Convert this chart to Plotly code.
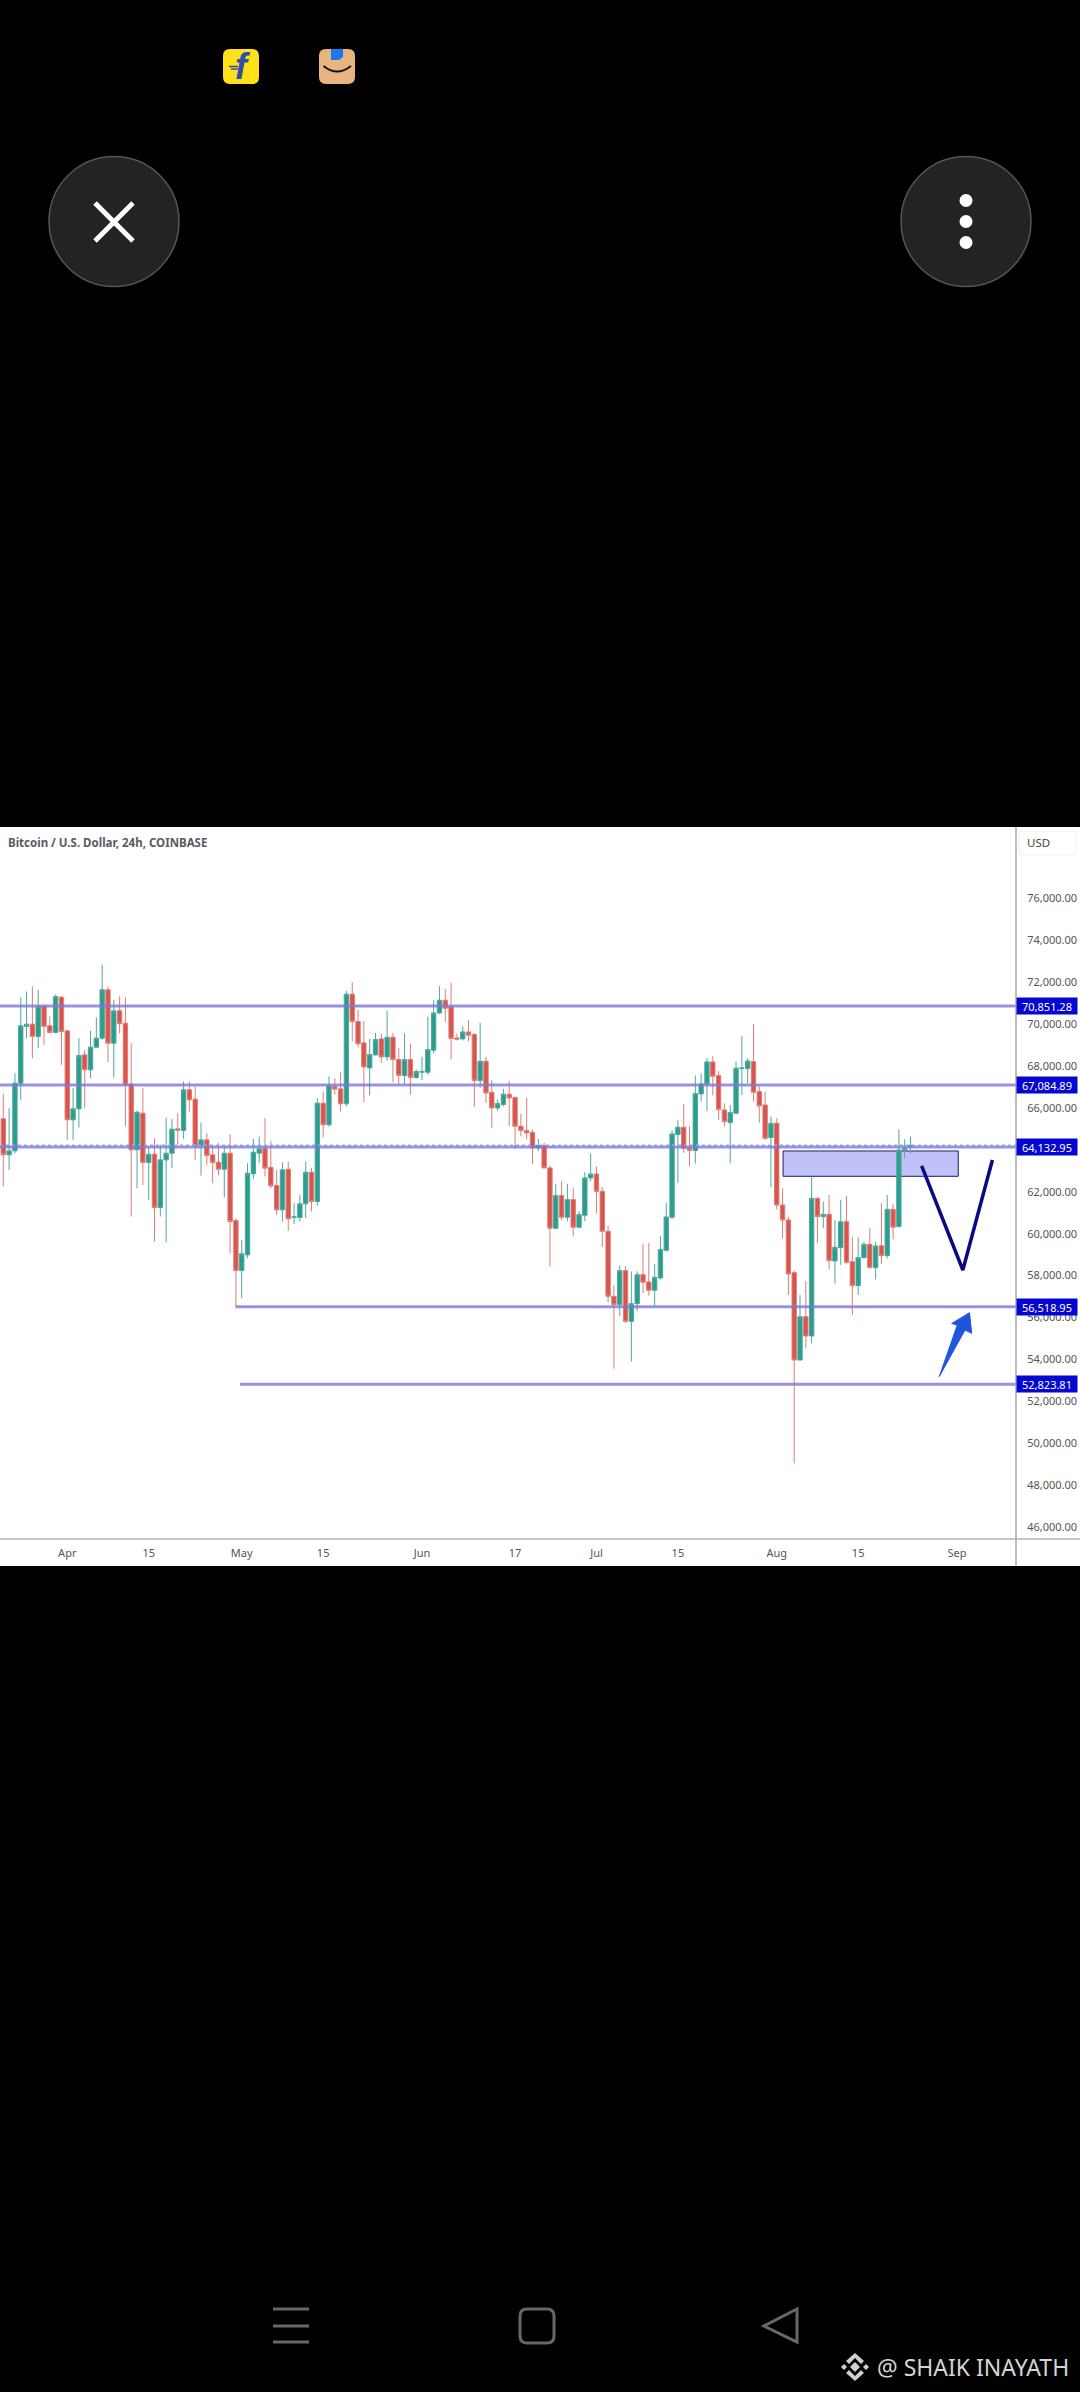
import pandas as pd
import plotly.graph_objects as go

# daily candles, first one is 21 Mar
first_day = "2024-03-21"
opens = [
    65476, 63759, 63950, 67178, 69880, 69992, 69403, 70834, 69912, 69594,
    71280, 69674, 65428, 65953, 68529, 67813, 68895, 69324, 71630, 69085,
    70628, 70040, 67130, 63997, 65746, 63393, 63791, 61247, 63520, 63838,
    64999, 64920, 66859, 66414, 64204, 64474, 63759, 63409, 63075, 63838,
    60627, 58242, 58989, 62853, 63838, 64077, 63155, 62296, 61135, 63075,
    60770, 60770, 61422, 62932, 61533, 66223, 65190, 67018, 66907, 66192,
    71423, 70119,
    69098, 67905, 68526, 69289, 68430, 69368, 68303, 67540, 68303, 67444,
    67699, 67699, 68748, 70529, 71133, 70815, 69336, 69289, 69623, 69496,
    67301, 68223, 66745, 65997, 66157, 66649, 66490, 65123, 64916, 64837,
    64089, 64201, 63135, 60258, 61816, 60782, 61625, 60305, 60877, 62658,
    62849, 62022, 60114, 57014, 56616, 58238, 55821, 56664, 58047, 57698,
    57300, 57889, 59208, 60782, 64725, 65075, 64089, 63962, 66665, 67142,
    68192, 67540,
    65900, 65296, 65741, 67872, 67872, 68205, 66775, 66138, 64580, 65264,
    61368, 60653, 58141, 53975, 56042, 55120, 61686, 60812, 60923, 58697,
    59333, 60573, 58666, 57521, 58856, 59492, 58379, 59429, 58952, 61162,
    60335, 63992, 64151,
]
highs = [
    66653, 65985, 67654, 71264, 71550, 71788, 71630, 70914, 70357, 71391,
    71311, 69700, 66939, 69324, 68767, 69674, 70310, 72822, 71788, 71152,
    71311, 71264, 69085, 65858, 66939, 64156, 64554, 64236, 65540, 65460,
    65746, 67257, 67257, 67018, 65301, 64792, 64156, 64315, 64204, 64745,
    60738, 59704, 63361, 64522, 64633, 65508, 64427, 63043, 63409, 63441,
    61453, 61851, 63441, 63123, 66462, 66780, 67495, 67416, 67686, 71582,
    71995, 70675,
    70131, 69289, 69575, 69543, 70640, 69575, 68860, 69543, 69066, 67826,
    68430, 70338, 71133, 71801, 71674, 71960, 69543, 69893, 70179, 69575,
    70052, 68430, 67317, 66395, 66904, 67285, 66554, 65727, 66474, 64964,
    64519, 64328, 63247, 62388, 62499, 62372, 62181, 61068, 62929, 63819,
    63215, 62229, 60385, 57523, 58477, 58445, 58206, 58206, 59526, 59558,
    58556, 59876, 61466, 64916, 65409, 66188, 65123, 67540, 67635, 68382,
    68462, 67746,
    66218, 66138, 68205, 69430, 68364, 70002, 67013, 66774, 65582, 65502,
    62163, 60812, 58236, 57075, 57743, 62720, 61734, 61527, 61845, 60653,
    61607, 61798, 59858, 59826, 59619, 60255, 59619, 61448, 61845, 61416,
    64978, 64501, 64628,
]
lows = [
    62248, 63043, 63838, 66382, 69324, 68370, 68847, 69006, 69562, 69562,
    68052, 64474, 64474, 65063, 65985, 67416, 68847, 69244, 68179, 67448,
    69562, 65110, 60817, 62169, 62328, 61612, 59625, 60817, 59577, 63123,
    64236, 64522, 65826, 63520, 62773, 63282, 62407, 62773, 61724, 59068,
    56524, 56922, 58830, 62598, 63361, 62725, 62169, 60897, 60579, 60134,
    60468, 60579, 60738, 61056, 61326, 64586, 65110, 66621, 65826, 66064,
    69165, 68879,
    66268, 66602, 68494, 68144, 68255, 67222, 67142, 67142, 66618, 67381,
    67317, 67587, 68589, 70481, 70084, 68303, 69209, 69209, 69177, 66045,
    66951, 66236, 65043, 65854, 66077, 65123, 64058, 64646, 64487, 63326,
    63930, 63104, 58445, 60226, 60639, 60591, 59876, 60273, 60591, 62499,
    60989, 59367, 56728, 53564, 56060, 55742, 53898, 56298, 57173, 57046,
    56537, 57809, 59160, 60703, 62420, 63851, 63215, 63342, 66315, 65838,
    66602, 65441,
    65105, 63356, 65709, 66615, 67172, 66297, 65296, 64469, 62211, 61162,
    59778, 57075, 49046, 53943, 54531, 54770, 59540, 60255, 58300, 57632,
    58506, 58538, 56121, 57075, 58824, 58347, 57823, 58554, 58824, 59731,
    60303, 63594, 63833,
]
closes = [
    63759, 63950, 67178, 69912, 69992, 69403, 70834, 69880, 69594, 71311,
    69642, 65428, 65953, 68497, 67813, 68895, 69324, 71630, 69085, 70628,
    70008, 67098, 63997, 65794, 63393, 63791, 61247, 63520, 63838, 64983,
    64936, 66859, 66382, 64204, 64474, 63727, 63393, 63075, 63838, 60579,
    58242, 59037, 62884, 63886, 64045, 63123, 62280, 61135, 63043, 60706,
    60802, 61422, 62932, 61533, 66223, 65190, 67066, 66891, 66192, 71423,
    70119, 69054,
    67953, 68541, 69257, 68430, 69368, 68303, 67540, 68303, 67444, 67731,
    67731, 68780, 70529, 71133, 70752, 69305, 69273, 69623, 69464, 67301,
    68223, 66713, 65997, 66204, 66649, 66474, 65123, 64916, 64805, 64089,
    64201, 63135, 60258, 61816, 60782, 61625, 60305, 60909, 62658, 62849,
    62022, 60114, 57014, 56616, 58238, 55821, 56664, 58047, 57682, 57300,
    57920, 59240, 60798, 64757, 65075, 64058, 63962, 66681, 67142, 68192,
    67508, 65918,
    65343, 65773, 67887, 67903, 68237, 66743, 66091, 64548, 65264, 61368,
    60653, 58077, 53975, 56042, 55120, 61686, 60812, 60923, 58713, 59349,
    60573, 58634, 57521, 58856, 59492, 58379, 59413, 58952, 61162, 60303,
    63992, 64071, 64215,
]

price_ticks = list(range(46000, 78000, 2000))
date_ticks = ["2024-04-01", "2024-04-15", "2024-05-01", "2024-05-15", "2024-06-01", "2024-06-17",
              "2024-07-01", "2024-07-15", "2024-08-01", "2024-08-15", "2024-09-01"]
date_labels = ["Apr", "15", "May", "15", "Jun", "17", "Jul", "15", "Aug", "15", "Sep"]

# levels drawn on the chart: price, day the line starts
levels = [70851.28, 67084.89, 64132.95, 56518.95, 52823.81]
level_starts = [None, None, None, "2024-04-29 22:00", "2024-04-30 17:00"]
last_price = closes[-1]

zone_days = ["2024-08-02 02:00", "2024-09-01 05:00"]
zone_prices = [62736, 63944]
vee_days = ["2024-08-25 22:00", "2024-09-02 00:00", "2024-09-07 02:00"]
vee_prices = [63229, 58268, 63515]

W, H = 1080, 2392
AX_R, AX_T, AX_B, PANEL_B = 1016, 827, 1539, 1566
x_range = ["2024-03-20 10:23", "2024-09-11 03:22"]
y_range = [45440, 79393]

LINE_COL = "rgba(125,120,214,0.8)"


def px(x):
    return x / W


def py(y):
    return 1 - y / H


def P(*pts):
    # svg path from pixel pairs, closes when last item is Z
    out = []
    for i, p in enumerate(pts):
        if p == "Z":
            out.append("Z")
        else:
            out.append(("M" if i == 0 else "L") + f"{px(p[0])},{py(p[1])}")
    return " ".join(out)


def round_rect(x0, y0, x1, y1, r):
    xr, yr = r / W, r / H
    a, b, c, d = px(x0), py(y0), px(x1), py(y1)
    return (f"M{a + xr},{b} L{c - xr},{b} Q{c},{b} {c},{b - yr} L{c},{d + yr} Q{c},{d} {c - xr},{d} "
            f"L{a + xr},{d} Q{a},{d} {a},{d + yr} L{a},{b - yr} Q{a},{b} {a + xr},{b} Z")


def path_shape(path, fill=None, line=None, width=0, layer="above"):
    return dict(type="path", xref="paper", yref="paper", path=path, fillcolor=fill or "rgba(0,0,0,0)",
                line=dict(color=line or "rgba(0,0,0,0)", width=width), layer=layer)


def circle(cx, cy, r, fill, line=None, width=0):
    return dict(type="circle", xref="paper", yref="paper", x0=px(cx - r), x1=px(cx + r), y0=py(cy + r), y1=py(cy - r),
                fillcolor=fill, line=dict(color=line or "rgba(0,0,0,0)", width=width))


days = pd.date_range(first_day, periods=len(opens), freq="D")

fig = go.Figure()
fig.add_trace(go.Candlestick(
    x=days, open=opens, high=highs, low=lows, close=closes,
    increasing=dict(line=dict(color="#4fa89c", width=1), fillcolor="#2b9d8f"),
    decreasing=dict(line=dict(color="#dd7d75", width=1), fillcolor="#d9544c"),
    whiskerwidth=0, showlegend=False,
))

# dotted last price line
fig.add_trace(go.Scatter(x=x_range, y=[last_price, last_price], mode="lines", showlegend=False,
                         line=dict(color="#8fb8ea", width=1.5, dash="dot")))
for lvl, start in zip(levels, level_starts):
    fig.add_trace(go.Scatter(x=[start or x_range[0], x_range[1]], y=[lvl, lvl], mode="lines", showlegend=False,
                             line=dict(color=LINE_COL, width=3)))
fig.add_trace(go.Scatter(x=vee_days, y=vee_prices, mode="lines", showlegend=False,
                         line=dict(color="#0a0a82", width=3.5)))

shapes = [
    # white chart panel
    dict(type="rect", xref="paper", yref="paper", x0=0, x1=1, y0=py(PANEL_B), y1=py(AX_T),
         fillcolor="white", line=dict(width=0), layer="below"),
    # supply zone
    dict(type="rect", xref="x", yref="y", x0=zone_days[0], x1=zone_days[1], y0=zone_prices[0], y1=zone_prices[1],
         fillcolor="#c1c1f9", line=dict(color="#1a1a6e", width=1), layer="below"),
    # axis borders
    dict(type="line", xref="paper", yref="paper", x0=px(AX_R), x1=px(AX_R), y0=py(PANEL_B), y1=py(AX_T),
         line=dict(color="#a8a8a8", width=1.5)),
    dict(type="line", xref="paper", yref="paper", x0=0, x1=1, y0=py(AX_B), y1=py(AX_B),
         line=dict(color="#b4b4b4", width=1.5)),
    # USD box
    path_shape(round_rect(1019, 831, 1076, 855, 3), fill="white", line="#efefef", width=1),
    # blue arrow
    path_shape(P((939.3, 1376.5), (957.3, 1325), (951.7, 1323.5), (969.5, 1312.7), (971.7, 1333.3), (965, 1330), "Z"),
               fill="#1f55dd", line="#1f55dd", width=1),
    # phone buttons
    circle(114, 221.5, 65, "#232323", "#565656", 1.5),
    circle(966, 221.5, 65, "#232323", "#565656", 1.5),
    dict(type="line", xref="paper", yref="paper", x0=px(95), x1=px(133), y0=py(203), y1=py(241),
         line=dict(color="white", width=5)),
    dict(type="line", xref="paper", yref="paper", x0=px(133), x1=px(95), y0=py(203), y1=py(241),
         line=dict(color="white", width=5)),
    circle(966, 200.5, 6.5, "white"),
    circle(966, 221.5, 6.5, "white"),
    circle(966, 242.5, 6.5, "white"),
    # app icons
    path_shape(round_rect(223, 49, 259, 84, 7), fill="#ffe11b"),
    path_shape(P((229, 66.5), (238, 66.5)), line="#2b50a8", width=1.5),
    path_shape(P((231, 69), (238, 69)), line="#2b50a8", width=1.5),
    path_shape(round_rect(319, 49, 355, 84, 7), fill="#e9b47f"),
    path_shape(P((331, 49), (343, 49), (343, 57), (339, 60), (331, 60), "Z"), fill="#1b79f0"),
    path_shape(f"M{px(323.5)},{py(66)} Q{px(337)},{py(77)} {px(351)},{py(66)}", line="#141414", width=2),
    # nav bar
    path_shape(P((273, 2309), (309, 2309)), line="#676767", width=3),
    path_shape(P((273, 2326), (309, 2326)), line="#676767", width=3),
    path_shape(P((273, 2342), (309, 2342)), line="#676767", width=3),
    path_shape(round_rect(520, 2309, 554, 2343, 7), line="#676767", width=3),
    path_shape(P((797, 2309), (764, 2326), (797, 2342), "Z"), line="#676767", width=3),
    # watermark logo
    path_shape(P((855, 2362), (860, 2367), (855, 2372), (850, 2367), "Z"), fill="#d0d0d0"),
    path_shape(P((844, 2364), (847, 2367), (844, 2370), (841, 2367), "Z"), fill="#d0d0d0"),
    path_shape(P((866, 2364), (869, 2367), (866, 2370), (863, 2367), "Z"), fill="#d0d0d0"),
    path_shape(P((855, 2353), (864, 2361), (861, 2364), (855, 2358), (849, 2364), (846, 2361), "Z"), fill="#d0d0d0"),
    path_shape(P((855, 2381), (864, 2373), (861, 2370), (855, 2376), (849, 2370), (846, 2373), "Z"), fill="#d0d0d0"),
]

annotations = [
    dict(text="<b>Bitcoin / U.S. Dollar, 24h, COINBASE</b>", xref="paper", yref="paper", x=px(6), y=py(842),
         xanchor="left", yanchor="middle", showarrow=False, font=dict(family="Noto Sans", size=11.5, color="#5a5a62")),
    dict(text="USD", xref="paper", yref="paper", x=px(1038), y=py(842), xanchor="center", yanchor="middle",
         showarrow=False, font=dict(family="Noto Sans", size=11.5, color="#444444")),
    dict(text="<i><b>f</b></i>", xref="paper", yref="paper", x=px(242), y=py(66), xanchor="center", yanchor="middle",
         showarrow=False, font=dict(family="Liberation Sans", size=36, color="#2b50a8")),
    dict(text="@ SHAIK INAYATH", xref="paper", yref="paper", x=px(1071), y=py(2366.5), xanchor="right", yanchor="middle",
         showarrow=False, font=dict(family="Noto Sans", size=23, color="#d4d4d4")),
]
# blue price tags on the axis
for lvl in levels:
    annotations.append(dict(text=f"{lvl:,.2f}", xref="paper", yref="y", x=px(AX_R), y=lvl, xanchor="left",
                            yanchor="middle", showarrow=False, width=59, height=15, borderpad=0.5, align="center",
                            bgcolor="#0606d2", font=dict(family="Noto Sans", size=11, color="white")))

fig.update_layout(
    width=W, height=H, autosize=False,
    margin=dict(l=0, r=0, t=0, b=0),
    paper_bgcolor="black", plot_bgcolor="white",
    showlegend=False, shapes=shapes, annotations=annotations,
    boxgap=0.25, boxgroupgap=0,
    xaxis=dict(domain=[0, px(AX_R)], range=x_range, type="date", rangeslider=dict(visible=False),
               showgrid=False, zeroline=False, showline=False,
               tickmode="array", tickvals=date_ticks, ticktext=date_labels, ticks="outside", ticklen=4,
               tickcolor="rgba(0,0,0,0)", tickfont=dict(family="Noto Sans", size=11, color="#555555"), automargin=False),
    yaxis=dict(domain=[py(AX_B), py(AX_T)], range=y_range, side="right", showgrid=False, zeroline=False, showline=False,
               tickmode="array", tickvals=price_ticks, tickformat=",.2f", ticks="outside", ticklen=8,
               tickcolor="rgba(0,0,0,0)", tickfont=dict(family="Noto Sans", size=11, color="#555555"), automargin=False),
)

# page has a default margin, drop it so the figure fills the window
fig.write_html("out.html", config=dict(displayModeBar=False),
               post_script="document.body.style.margin='0';document.body.style.background='black';")
